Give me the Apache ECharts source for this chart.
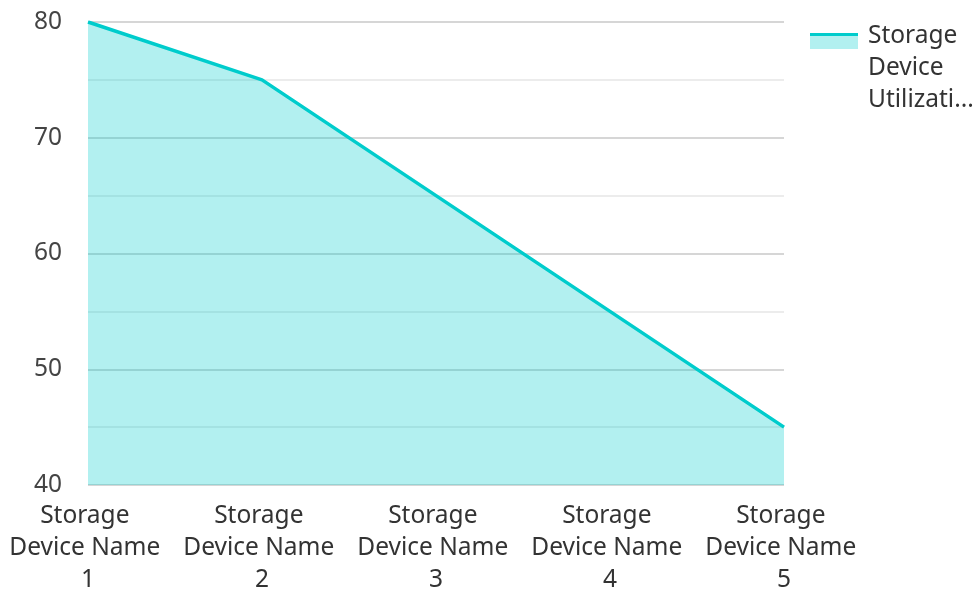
<!DOCTYPE html>
<html>
<head>
<meta charset="utf-8">
<script src="https://cdn.jsdelivr.net/npm/echarts@6/dist/echarts.min.js"></script>
<style>
  html, body { margin: 0; padding: 0; background: #fff; }
  #chart { width: 975px; height: 590px; }
</style>
</head>
<body>
<div id="chart"></div>
<script>
var categories = ['Storage Device Name 1', 'Storage Device Name 2', 'Storage Device Name 3', 'Storage Device Name 4', 'Storage Device Name 5']
var utilization = [80, 75, 65, 55, 45]
var seriesName = 'Storage Device Utilization'

var lineColor = '#00CCCC'
var areaColor = '#B2F0F0'
var font = 'Noto Sans'

// legend icon: thin line on top of a light block, extra empty room below so it sits by the first text line
var legendIcon = 'path://M0,0 L48,0 L48,16 L0,16 Z M0,70 L0.01,70 Z'

var chart = echarts.init(document.getElementById('chart'))
chart.setOption({
  animation: false,
  textStyle: { fontFamily: font },
  grid: { left: 88, right: 191, top: 22, bottom: 105, outerBoundsMode: 'none' },
  legend: {
    left: 810,
    top: 20,
    padding: 0,
    itemWidth: 48,
    itemHeight: 70,
    formatter: function (name) {
      return name.split(' ').join('\n')
    },
    textStyle: {
      fontFamily: font,
      fontSize: 24.5,
      color: '#333',
      width: 113,
      lineHeight: 32,
      overflow: 'truncate',
      padding: [0, 0, 0, 5]
    },
    data: [{
      name: seriesName,
      icon: legendIcon,
      itemStyle: {
        color: {
          type: 'linear', x: 0, y: 0, x2: 0, y2: 1,
          colorStops: [
            { offset: 0, color: lineColor },
            { offset: 0.045, color: lineColor },
            { offset: 0.045, color: areaColor },
            { offset: 1, color: areaColor }
          ]
        }
      }
    }]
  },
  xAxis: {
    type: 'category',
    data: categories,
    boundaryGap: false,
    axisLine: { show: false },
    axisTick: { show: false },
    axisLabel: {
      interval: 0,
      fontSize: 24.5,
      color: '#333',
      lineHeight: 32,
      width: 160,
      overflow: 'break',
      margin: 15
    }
  },
  yAxis: {
    type: 'value',
    min: 40,
    max: 80,
    interval: 10,
    axisLabel: { fontSize: 24.5, color: '#444', margin: 26 },
    splitLine: { lineStyle: { color: '#c8c8c8', width: 1.5 } },
    minorTick: { show: false, splitNumber: 2 },
    minorSplitLine: { show: true, lineStyle: { color: '#e6e6e6', width: 1.5 } }
  },
  series: [{
    name: seriesName,
    type: 'line',
    data: utilization,
    symbol: 'none',
    lineStyle: { color: lineColor, width: 3.5 },
    itemStyle: { color: lineColor },
    areaStyle: { color: lineColor, opacity: 0.3 }
  }]
})
</script>
</body>
</html>
